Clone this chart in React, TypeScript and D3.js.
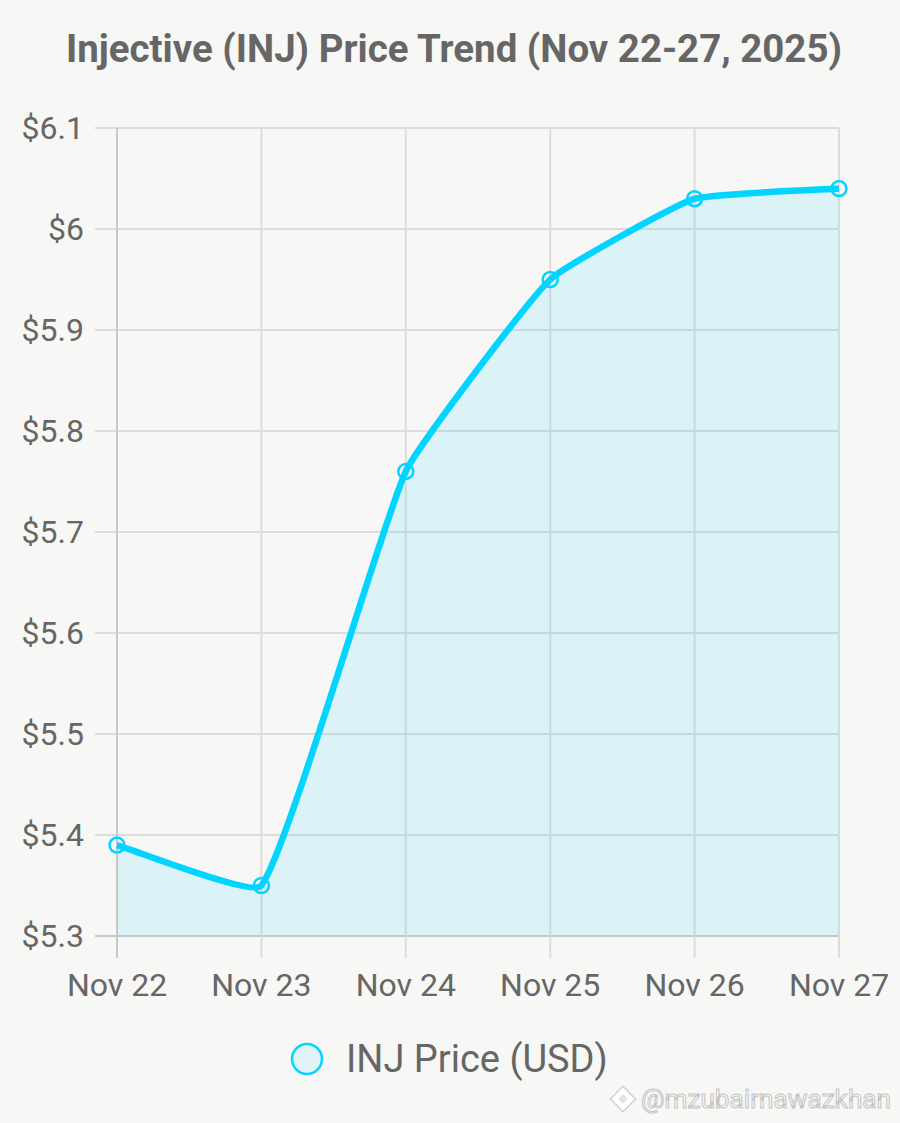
import React from "react";
import * as d3 from "d3";

const categories = ["Nov 22", "Nov 23", "Nov 24", "Nov 25", "Nov 26", "Nov 27"];
const prices = [5.39, 5.35, 5.76, 5.95, 6.03, 6.04];
const yTicks = [5.3, 5.4, 5.5, 5.6, 5.7, 5.8, 5.9, 6.0, 6.1];
const seriesName = "INJ Price (USD)";
const title = "Injective (INJ) Price Trend (Nov 22-27, 2025)";
const watermark = "@mzubairnawazkhan";

const W = 900;
const H = 1123;
const LINE = "#00d4ff";
const FILL = "rgba(0, 212, 255, 0.11)";
const TEXT = "#666666";
const FONT = "Roboto, 'Noto Sans', sans-serif";
const TENSION = 0.12;

type P = [number, number];

// Chart.js-style spline control points
function splinePath(pts: P[], top: number, bottom: number): d3.Path {
  const p = d3.path();
  const ctrls = pts.map((cur, i) => {
    const prev = pts[i - 1] || cur;
    const next = pts[i + 1] || cur;
    const d01 = Math.hypot(cur[0] - prev[0], cur[1] - prev[1]);
    const d12 = Math.hypot(next[0] - cur[0], next[1] - cur[1]);
    let s01 = d01 / (d01 + d12);
    let s12 = d12 / (d01 + d12);
    s01 = isNaN(s01) ? 0 : s01;
    s12 = isNaN(s12) ? 0 : s12;
    const fa = TENSION * s01;
    const fb = TENSION * s12;
    const clampY = (v: number) => Math.max(top, Math.min(bottom, v));
    return {
      prev: [cur[0] - fa * (next[0] - prev[0]), clampY(cur[1] - fa * (next[1] - prev[1]))] as P,
      next: [cur[0] + fb * (next[0] - prev[0]), clampY(cur[1] + fb * (next[1] - prev[1]))] as P,
    };
  });
  p.moveTo(pts[0][0], pts[0][1]);
  for (let i = 1; i < pts.length; i++) {
    const a = ctrls[i - 1].next;
    const b = ctrls[i].prev;
    p.bezierCurveTo(a[0], a[1], b[0], b[1], pts[i][0], pts[i][1]);
  }
  return p;
}

export default function App() {
  const x = d3.scalePoint<string>().domain(categories).range([117, 839]);
  const y = d3.scaleLinear().domain([5.3, 6.1]).range([936, 128]);
  const pts = categories.map((c, i) => [x(c) as number, y(prices[i])] as P);
  const linePath = splinePath(pts, y(6.1), y(5.3));
  const lineD = linePath.toString();
  const areaD =
    lineD + `L${pts[pts.length - 1][0]},${y(5.3)}L${pts[0][0]},${y(5.3)}Z`;
  const fmt = (v: number) => "$" + d3.format("~g")(+v.toFixed(1));

  return (
    <svg width={W} height={H} style={{ display: "block", position: "absolute", left: 0, top: 0 }}>
      <rect x={0} y={0} width={W} height={H} fill="#f7f7f5" />
      <text
        x={454}
        y={62}
        textAnchor="middle"
        fontFamily={FONT}
        fontWeight="bold"
        fontSize={38}
        fill={TEXT}
        textLength={776}
        lengthAdjust="spacingAndGlyphs"
      >
        {title}
      </text>
      {/* horizontal grid */}
      {yTicks.map((t) => (
        <line
          key={"h" + t}
          x1={95}
          x2={839}
          y1={y(t)}
          y2={y(t)}
          stroke={t === 5.3 ? "#c9c9c9" : "#dcdcdc"}
          strokeWidth={2}
        />
      ))}
      {/* vertical grid */}
      {categories.map((c, i) => (
        <line
          key={"v" + c}
          x1={x(c)}
          x2={x(c)}
          y1={128}
          y2={958}
          stroke={i === 0 ? "#c9c9c9" : "#dcdcdc"}
          strokeWidth={2}
        />
      ))}
      <path d={areaD} fill={FILL} />
      <path d={lineD} fill="none" stroke={LINE} strokeWidth={6.5} strokeLinejoin="round" />
      {pts.map((p, i) => (
        <circle key={"p" + i} cx={p[0]} cy={p[1]} r={7.5} fill="none" stroke={LINE} strokeWidth={2.5} />
      ))}
      {/* y labels */}
      {yTicks.map((t) => (
        <text
          key={"yl" + t}
          x={84}
          y={y(t)}
          dy="0.35em"
          textAnchor="end"
          fontFamily={FONT}
          fontSize={32}
          fill={TEXT}
        >
          {fmt(t)}
        </text>
      ))}
      {/* x labels */}
      {categories.map((c) => (
        <text
          key={"xl" + c}
          x={x(c)}
          y={996}
          textAnchor="middle"
          fontFamily={FONT}
          fontSize={32}
          fill={TEXT}
        >
          {c}
        </text>
      ))}
      {/* legend */}
      <circle cx={307} cy={1059} r={15} fill="#e0f4f7" stroke={LINE} strokeWidth={2.5} />
      <text x={346} y={1072} fontFamily={FONT} fontSize={38} fill={TEXT}>
        {seriesName}
      </text>
      {/* watermark */}
      <g>
        <g transform="translate(623,1099) rotate(45)">
          <rect x={-9} y={-9} width={18} height={18} fill="#ffffff" stroke="#d0d0d0" strokeWidth={1.5} />
          <rect x={-3.5} y={-3.5} width={7} height={7} fill="#e4e4e4" />
        </g>
        <text
          x={641}
          y={1108}
          fontFamily={FONT}
          fontSize={25}
          fill="#ffffff"
          stroke="#c4c4c4"
          strokeWidth={1}
          textLength={250}
          lengthAdjust="spacingAndGlyphs"
        >
          {watermark}
        </text>
      </g>
    </svg>
  );
}
